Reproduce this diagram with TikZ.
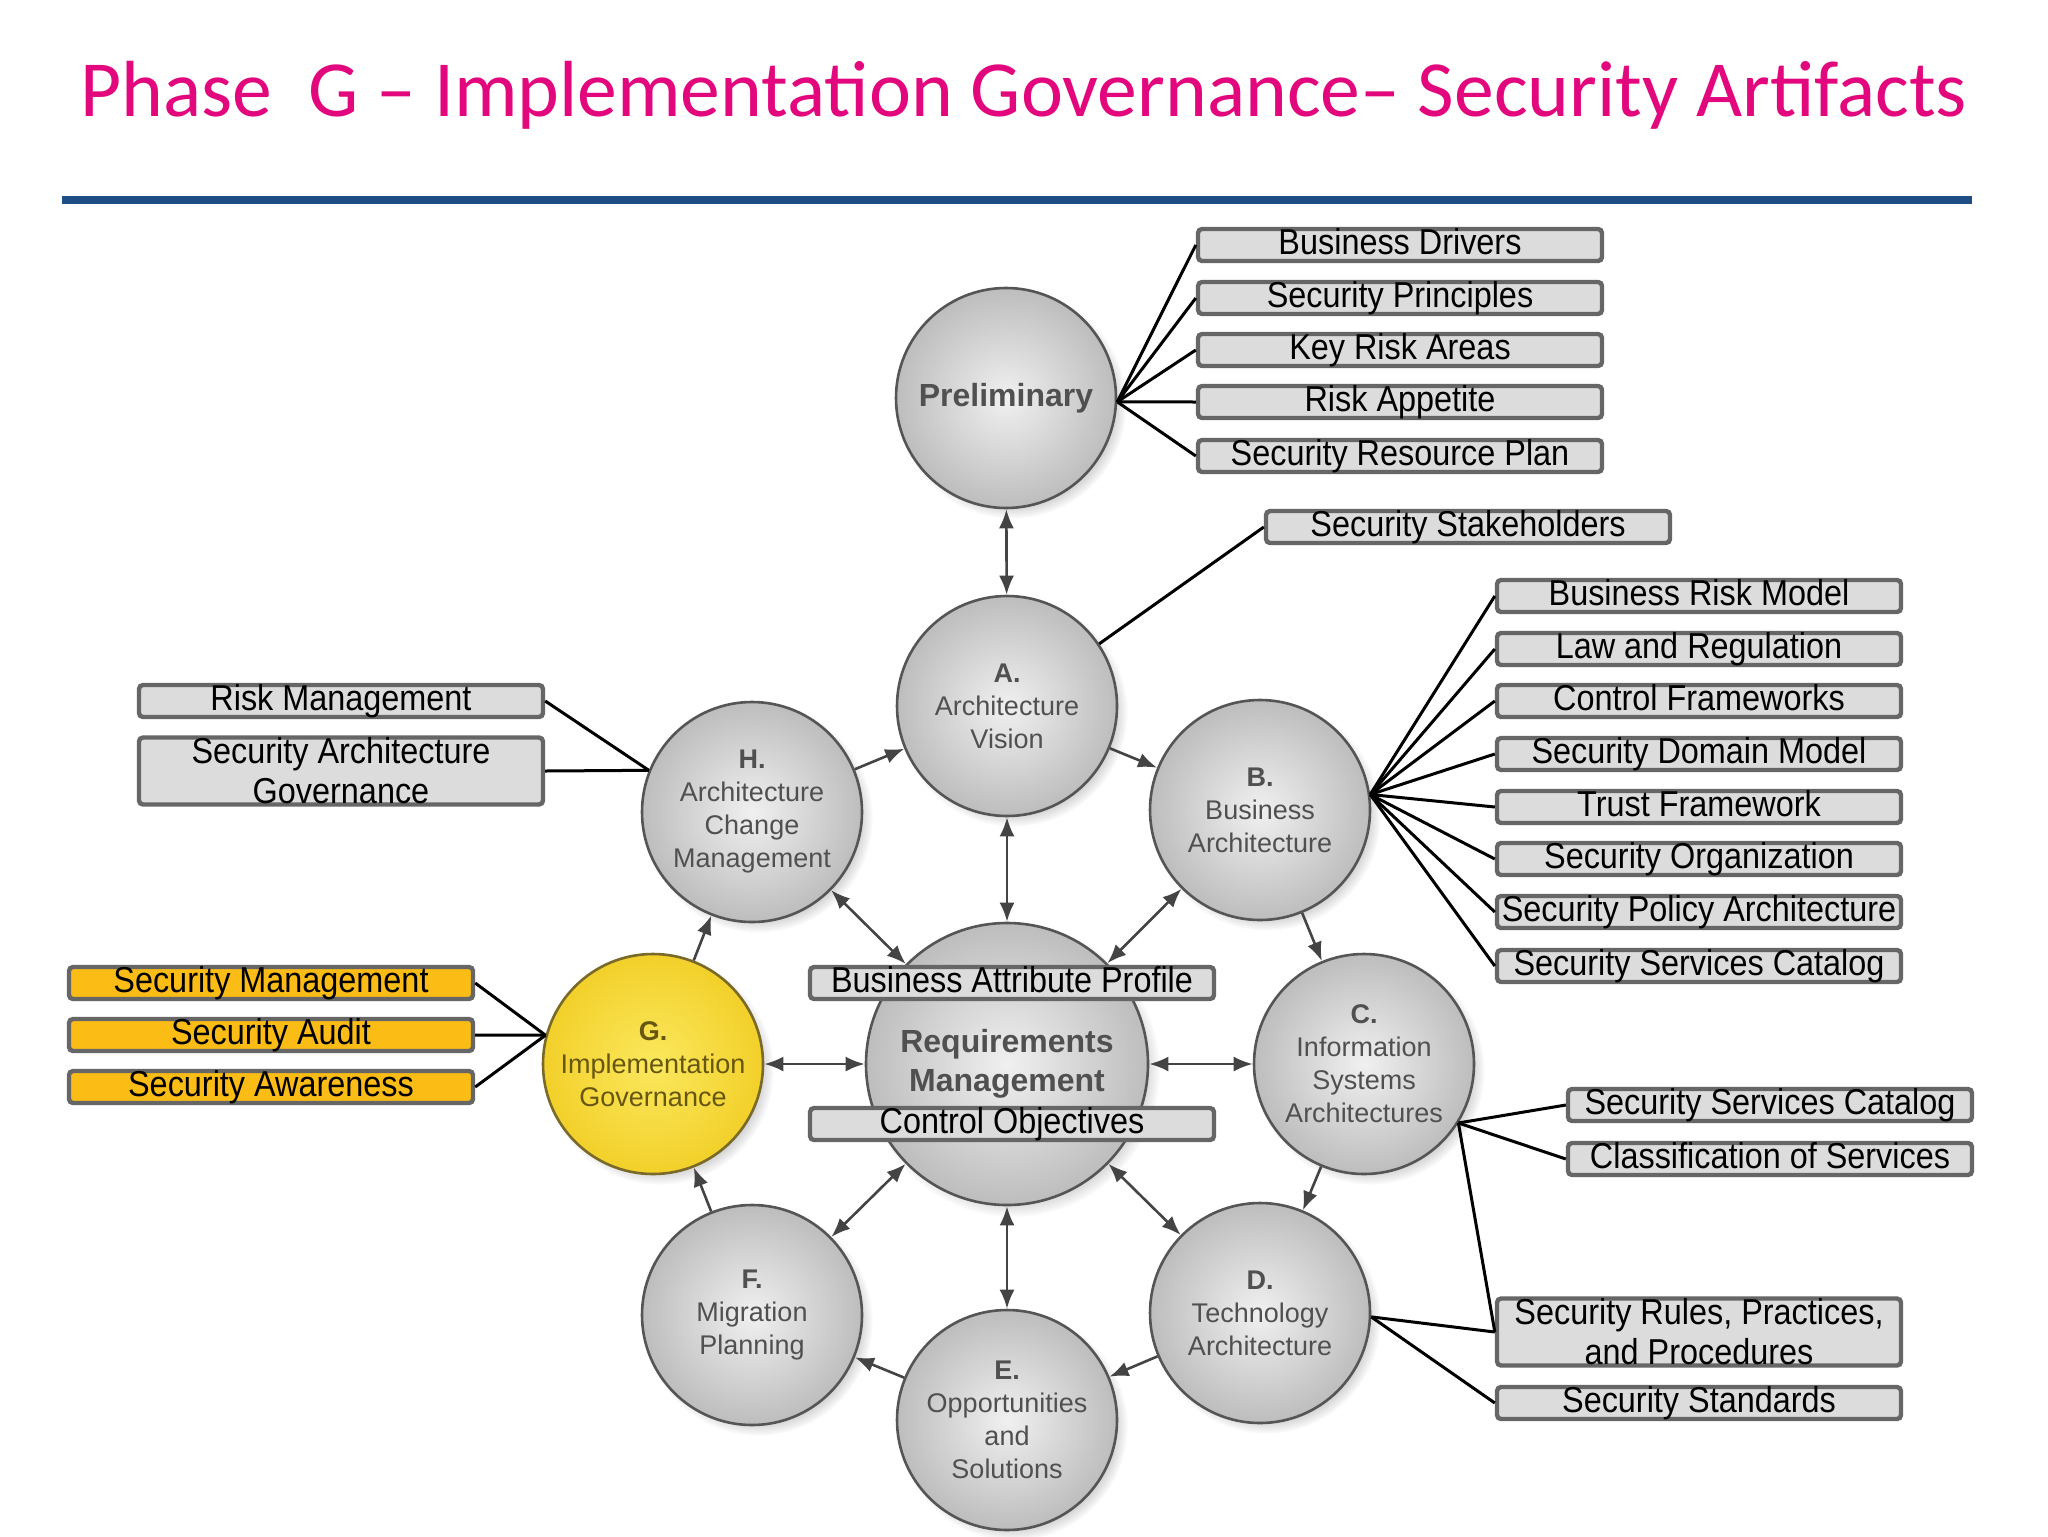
\documentclass[tikz,border=0pt]{standalone}
\usepackage{fontspec}
\newfontfamily\titlefont{Carlito}
\newfontfamily\cfont{Liberation Sans}
\newfontfamily\boxfont[FakeStretch=0.9]{Liberation Sans}
\usetikzlibrary{arrows.meta,shadows}
\definecolor{titlec}{HTML}{E2077D}
\definecolor{rulec}{HTML}{1F4E84}
\definecolor{circin}{HTML}{F0F0F0}
\definecolor{circout}{HTML}{BDBDBD}
\definecolor{circedge}{HTML}{555555}
\definecolor{circtext}{HTML}{505050}
\definecolor{yelin}{HTML}{FBE85E}
\definecolor{yelout}{HTML}{F2D02A}
\definecolor{yeledge}{HTML}{7A6A2A}
\definecolor{yeltext}{HTML}{66560F}
\definecolor{boxfill}{HTML}{DCDCDC}
\definecolor{boxedge}{HTML}{666666}
\definecolor{yelbox}{HTML}{FCBC16}
\definecolor{arrc}{HTML}{444444}
\tikzset{
  phase/.style={circle, draw=circedge, line width=1.3pt, minimum size=110pt,
    inner sep=0pt, shading=radial, inner color=circin, outer color=circout,
    align=center, text=circtext, font=\cfont\fontsize{13.5}{16.5}\selectfont,
    circular drop shadow={shadow scale=1.04, shadow xshift=3pt, shadow yshift=-3pt, opacity=0.45}},
  yphase/.style={phase, inner color=yelin, outer color=yelout, draw=yeledge, text=yeltext},
  bigphase/.style={phase, minimum size=141pt, font=\cfont\bfseries\fontsize{16}{19.5}\selectfont},
  artbase/.style={rectangle, rounded corners=2pt, draw=boxedge, line width=2.2pt,
    fill=boxfill, minimum width=202pt, inner sep=0pt, align=center, text=black,
    font=\boxfont\fontsize{18}{20}\selectfont},
  art/.style={artbase, minimum height=16pt, text height=12.5pt, text depth=3.5pt},
  arttwo/.style={artbase, minimum height=33.5pt},
  arty/.style={art, fill=yelbox},
  link/.style={draw=black, line width=1.5pt},
  flow/.style={draw=arrc, line width=1.3pt, -{Latex[length=9.5pt,width=7.5pt]}},
  flowb/.style={draw=arrc, line width=1.3pt, {Latex[length=9.5pt,width=7.5pt]}-{Latex[length=9.5pt,width=7.5pt]}}
}
\begin{document}
\begin{tikzpicture}[x=0.5pt,y=-0.5pt]
\useasboundingbox (0,0) rectangle (2048,1536);
\fill[white] (0,0) rectangle (2048,1536);

% title and rule
\node[anchor=base west, inner sep=0pt, text=titlec, font=\titlefont\fontsize{39.8}{44}\selectfont] (title) at (80,117) {Phase\ \ G – Implementation Governance– Security Artifacts};
\coordinate (rl) at (62,200);
\coordinate (rr) at (1972,200);
\draw[rulec, line width=4pt] (rl) -- (rr);

% phase circles
\node[phase] (P) at (1006,398) {\fontsize{16}{19}\selectfont\bfseries Preliminary};
\node[phase] (A) at (1007,706) {\textbf{A.}\\Architecture\\Vision};
\node[phase] (B) at (1260,810) {\textbf{B.}\\Business\\Architecture};
\node[phase] (C) at (1364,1064) {\textbf{C.}\\Information\\Systems\\Architectures};
\node[phase] (D) at (1260,1313) {\textbf{D.}\\Technology\\Architecture};
\node[phase] (E) at (1007,1420) {\textbf{E.}\\Opportunities\\and\\Solutions};
\node[phase] (F) at (752,1315) {\textbf{F.}\\Migration\\Planning};
\node[yphase] (G) at (653,1064) {\textbf{G.}\\Implementation\\Governance};
\node[phase] (H) at (752,812) {\textbf{H.}\\Architecture\\Change\\Management};
\node[bigphase] (R) at (1007,1064) {Requirements\\Management};

% cycle arrows
\draw[flowb] (P) -- (A);
\draw[flow] (A) -- (B);
\draw[flow] (B) -- (C);
\draw[flow] (C) -- (D);
\draw[flow] (D) -- (E);
\draw[flow] (E) -- (F);
\draw[flow] (F) -- (G);
\draw[flow] (G) -- (H);
\draw[flow] (H) -- (A);
% requirements arrows
\draw[flowb] (R) -- (A);
\draw[flowb] (R) -- (B);
\draw[flowb] (R) -- (C);
\draw[flowb] (R) -- (D);
\draw[flowb] (R) -- (E);
\draw[flowb] (R) -- (F);
\draw[flowb] (R) -- (G);
\draw[flowb] (R) -- (H);

% artifact boxes
\node[art] (bd) at (1400,245) {Business Drivers};
\node[art] (sp) at (1400,298) {Security Principles};
\node[art] (kra) at (1400,350) {Key Risk Areas};
\node[art] (ra) at (1400,402) {Risk Appetite};
\node[art] (srp) at (1400,456) {Security Resource Plan};
\node[art] (sh) at (1468,527) {Security Stakeholders};

\node[art] (brm) at (1699,596) {Business Risk Model};
\node[art] (lr) at (1699,649) {Law and Regulation};
\node[art] (cf) at (1699,701) {Control Frameworks};
\node[art] (sdm) at (1699,754) {Security Domain Model};
\node[art] (tf) at (1699,807) {Trust Framework};
\node[art] (so) at (1699,859) {Security Organization};
\node[art] (spa) at (1699,912) {Security Policy Architecture};
\node[art] (ssc) at (1699,966) {Security Services Catalog};

\node[art] (rm) at (341,701) {Risk Management};
\node[arttwo] (sag) at (341,771) {Security Architecture\\Governance};

\node[arty] (sm) at (271,983) {Security Management};
\node[arty] (sa) at (271,1035) {Security Audit};
\node[arty] (saw) at (271,1087) {Security Awareness};

\node[art] (bap) at (1012,983) {Business Attribute Profile};
\node[art] (co) at (1012,1124) {Control Objectives};

\node[art] (ssc2) at (1770,1105) {Security Services Catalog};
\node[art] (cos) at (1770,1159) {Classification of Services};

\node[arttwo] (srpp) at (1699,1332) {Security Rules, Practices,\\and Procedures};
\node[art] (sst) at (1699,1403) {Security Standards};

% artifact links
\foreach \b in {bd,sp,kra,ra,srp} \draw[link] (P.-2) -- (\b.west);
\draw[link] (A.34) -- (sh.west);
\foreach \b in {brm,lr,cf,sdm,tf,so,spa,ssc} \draw[link] (B.8) -- (\b.west);
\foreach \b in {rm,sag} \draw[link] (H.158) -- (\b.east);
\foreach \b in {sm,sa,saw} \draw[link] (G.165) -- (\b.east);
\foreach \b in {ssc2,cos,srpp} \draw[link] (C.-32) -- (\b.west);
\foreach \b in {srpp,sst} \draw[link] (D.-2) -- (\b.west);
\end{tikzpicture}
\end{document}
